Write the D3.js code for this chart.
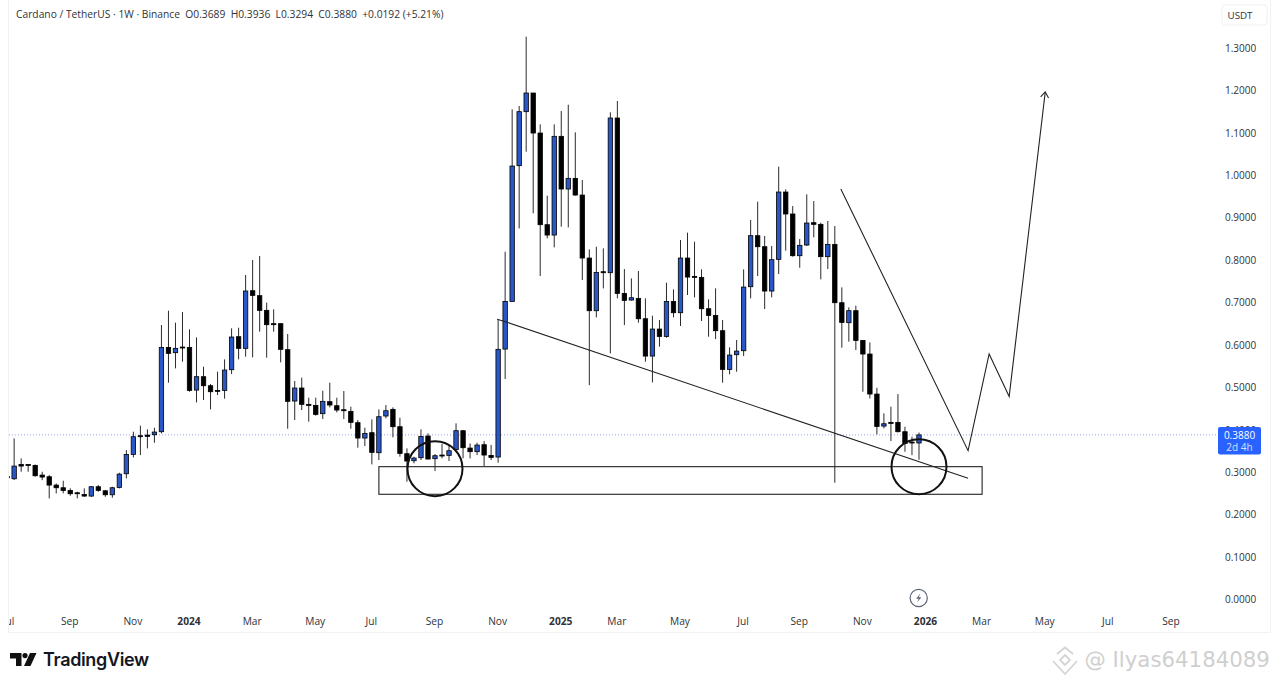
<!DOCTYPE html>
<html>
<head>
<meta charset="utf-8">
<style>
  html, body { margin: 0; padding: 0; background: #fff; }
  text { font-family: "Open Sans", "Noto Sans", sans-serif; }
  .axis path, .axis line { display: none; }
</style>
<script src="https://cdn.jsdelivr.net/npm/d3@7"></script>
</head>
<body>
<svg id="chart" width="1280" height="686"></svg>
<script>
// weekly candles, first bar is the week of this date
const firstWeek = '2023-07-03';

const opens = [
  .2900, .2846, .3184, .3184, .3161, .2933, .2894, .2697, .2634, .2571, .2516, .2477, .2438, .2658,
  .2563, .2469, .2642, .2964, .3420, .3860, .3876, .3884, .3955, .5943, .5818, .5951, .5943, .4937,
  .5252, .5039, .4929, .4929, .5417, .6195, .5920, .7279, .7162, .6816, .6502, .6502, .5889, .4678,
  .4985, .4600, .4576, .4380, .4663, .4568, .4474, .4435, .4168, .3806, .3932, .3460, .4325, .4482,
  .4073, .3437, .3271, .3342, .3853, .3319, .3405, .3397, .3531, .3979, .3570, .3484, .3649, .3397,
  .3358, .5903, .7027, 1.0226, 1.1499, 1.1939, 1.0996, .8835, .8591, 1.0918, .9676, .9927, .9534, .8049,
  .6807, .7727, .7703, 1.1350, .7216, .7059, .7098, .6618, .5738, .6375, .6202, .7027, .6760, .8049,
  .7617, .7593, .6854, .6697, .6336, .5424, .5770, .5864, .7373, .8576, .8316, .7271, .8018, .9605,
  .9087, .8104, .8356, .8882, .8843, .8081, .8371, .6996, .6525, .6808, .6108, .5786, .4843, .4088,
  .4175, .4175, .3955, .3710, .3689
];
const highs = [
  .2920, .3797, .3326, .3184, .3184, .3011, .2933, .2736, .2799, .2619, .2540, .2619, .2674, .2697,
  .2579, .2658, .2988, .3522, .3955, .4096, .4010, .4049, .6470, .6808, .6525, .6776, .6368, .6179,
  .5487, .5079, .5370, .5660, .6391, .6407, .7649, .8003, .8097, .6997, .6840, .6510, .6258, .5150,
  .5229, .4757, .4757, .4922, .5111, .4757, .4914, .4545, .4230, .4050, .4246, .4482, .4584, .4529,
  .4285, .3562, .3366, .4010, .3916, .3429, .3664, .3641, .4152, .3995, .3680, .3696, .3735, .3641,
  .6604, .8198, 1.1554, 1.1633, 1.3268, 1.1939, 1.1201, .9519, 1.1201, 1.1515, 1.1664, 1.1012, .9888, .8253,
  .8316, .8277, 1.1484, 1.1751, .7789, .7569, .7742, .7098, .6689, .6587, .7468, .7310, .8474, .8647,
  .8434, .7782, .7075, .7334, .6587, .5943, .6116, .7782, .8945, .9377, .8568, .8332, 1.0203, .9668,
  .9275, .8497, .9550, .9393, .8882, .8922, .8804, .7357, .6886, .6926, .6116, .6061, .4992, .4387,
  .4544, .4843, .4073, .3837, .3936
];
const lows = [
  .2860, .2815, .3011, .3011, .2894, .2815, .2383, .2501, .2501, .2446, .2383, .2422, .2422, .2540,
  .2422, .2398, .2619, .2854, .3349, .3405, .3562, .3695, .3915, .5110, .5448, .5605, .4898, .4646,
  .4701, .4481, .4819, .4733, .5314, .5660, .5723, .5707, .6313, .5700, .6313, .5590, .4025, .4230,
  .4466, .4191, .4333, .4254, .4529, .4411, .4254, .4025, .3578, .3617, .3185, .3287, .4270, .3822,
  .3366, .2776, .3209, .3287, .3303, .3028, .3327, .3264, .3507, .3327, .3327, .3405, .3146, .3287,
  .3224, .5196, .7027, .8748, 1.0556, .9102, .7624, .8512, .8300, .8788, .8772, .9519, .7530, .5054,
  .6650, .7333, .5801, .7098, .6469, .7043, .6524, .5604, .5117, .5958, .6171, .6650, .6446, .7177,
  .7122, .6564, .6194, .6139, .5110, .5306, .5369, .5738, .7098, .7625, .6847, .7122, .7672, .8222,
  .8081, .7821, .8332, .8536, .7546, .7790, .2752, .5935, .6077, .5880, .4898, .4741, .3892, .4033,
  .3735, .3939, .3483, .3404, .3294
];
const closes = [
  .2870, .3145, .3145, .3161, .2917, .2886, .2697, .2634, .2571, .2493, .2493, .2438, .2658, .2571,
  .2469, .2634, .2956, .3420, .3837, .3837, .3845, .3947, .5943, .5802, .5920, .5928, .4929, .5252,
  .5039, .4898, .4906, .5409, .6187, .5920, .7272, .7169, .6816, .6478, .6478, .5897, .4671, .4985,
  .4600, .4576, .4364, .4671, .4584, .4466, .4450, .4175, .3806, .3916, .3468, .4309, .4450, .4073,
  .3444, .3264, .3334, .3845, .3311, .3389, .3382, .3507, .3979, .3578, .3484, .3641, .3405, .3350,
  .5897, .7027, 1.0218, 1.1499, 1.1939, 1.0996, .8835, .8591, 1.0918, .9676, .9927, .9534, .8049, .6807,
  .7711, .7703, 1.1350, .7216, .7051, .7113, .6618, .5738, .6375, .6202, .7027, .6760, .8049, .7601,
  .7593, .6854, .6697, .6336, .5424, .5762, .5856, .7365, .8576, .8316, .7271, .8010, .9605, .9087,
  .8104, .8348, .8874, .8843, .8081, .8371, .6996, .6532, .6808, .6108, .5786, .4843, .4080, .4143,
  .4151, .3955, .3680, .3689, .3880
];

const priceTicks = [0, .1, .2, .3, .4, .5, .6, .7, .8, .9, 1, 1.1, 1.2, 1.3];
const timeTicks = ['2023-07-03', '2023-09-04', '2023-11-06', '2024-01-01', '2024-03-04', '2024-05-06', '2024-07-01', '2024-09-02', '2024-11-04', '2025-01-06', '2025-03-03', '2025-05-05', '2025-07-07', '2025-09-01', '2025-11-03', '2026-01-05', '2026-03-02', '2026-05-04', '2026-07-06', '2026-09-07'];
const timeLabels = ['Jul', 'Sep', 'Nov', '2024', 'Mar', 'May', 'Jul', 'Sep', 'Nov', '2025', 'Mar', 'May', 'Jul', 'Sep', 'Nov', '2026', 'Mar', 'May', 'Jul', 'Sep'];

const lastClose = .3880;

// hand drawn stuff on the chart
const trendDates = ['2024-11-03', '2024-11-13', '2026-02-16'];
const trendPrices = [.6604, .6534, .2857];
const arrowDates = ['2025-10-12', '2026-02-16', '2026-03-09', '2026-03-29', '2026-05-04'];
const arrowPrices = [.9677, .3508, .5787, .4785, 1.1964];
const boxDates = ['2024-07-08', '2026-03-02'];
const boxPrices = [.3131, .2480];
const circleDates = ['2024-09-02', '2025-12-29'];
const circlePrices = [.3083, .3131];

const parse = d3.utcParse('%Y-%m-%d');

const x = d3.scaleUtc()
  .domain([parse('2024-01-01'), parse('2026-01-05')])
  .range([189.5, 926]);
const y = d3.scaleLinear()
  .domain([0, 1.3])
  .range([599.5, 48]);

const svg = d3.select('#chart');

// frame
svg.append('rect').attr('x', 0).attr('y', 0).attr('width', 1280).attr('height', 686).attr('fill', '#fff');
svg.append('path').attr('d', 'M8.5 0V632.5H1270.5V0').attr('fill', 'none').attr('stroke', '#f2f2f2');

svg.append('defs').append('clipPath').attr('id', 'pane')
  .append('rect').attr('x', 9).attr('y', 0).attr('width', 1212).attr('height', 632);
d3.select('defs').append('marker')
  .attr('id', 'head').attr('viewBox', '-7 -5 8 10').attr('refX', 0).attr('refY', 0)
  .attr('markerWidth', 8).attr('markerHeight', 10).attr('markerUnits', 'userSpaceOnUse').attr('orient', 'auto')
  .append('path').attr('d', 'M-5.5 -4L0 0L-5.5 4').attr('fill', 'none').attr('stroke', '#222').attr('stroke-width', 1);

const pane = svg.append('g').attr('clip-path', 'url(#pane)');

// last price line
pane.append('line')
  .attr('x1', 9).attr('x2', 1221)
  .attr('y1', y(lastClose)).attr('y2', y(lastClose))
  .attr('stroke', '#8fa9e6').attr('stroke-width', 1).attr('stroke-dasharray', '1 2');

// candles
const candles = opens.map((o, i) => ({
  date: d3.utcDay.offset(parse(firstWeek), 7 * i),
  open: o, high: highs[i], low: lows[i], close: closes[i]
}));

const bar = pane.selectAll('g.candle').data(candles).join('g').attr('class', 'candle');
bar.append('line')
  .attr('x1', d => x(d.date)).attr('x2', d => x(d.date))
  .attr('y1', d => y(d.high)).attr('y2', d => y(d.low))
  .attr('stroke', '#2b2b2b').attr('stroke-width', 1);
bar.append('rect')
  .attr('x', d => x(d.date) - 2.2)
  .attr('width', 4.4)
  .attr('y', d => y(Math.max(d.open, d.close)))
  .attr('height', d => Math.abs(y(d.open) - y(d.close)))
  .attr('fill', d => d.close >= d.open ? '#2a57c8' : '#000')
  .attr('stroke', '#000').attr('stroke-width', .8);

// drawings
const lineGen = d3.line().x(d => x(parse(d[0]))).y(d => y(d[1]));

pane.append('path')
  .attr('d', lineGen(d3.zip(trendDates, trendPrices)))
  .attr('fill', 'none').attr('stroke', '#222').attr('stroke-width', 1.1);

pane.append('path')
  .attr('d', lineGen(d3.zip(arrowDates, arrowPrices)))
  .attr('fill', 'none').attr('stroke', '#222').attr('stroke-width', 1.1)
  .attr('marker-end', 'url(#head)');

pane.append('rect')
  .attr('x', x(parse(boxDates[0])))
  .attr('y', y(boxPrices[0]))
  .attr('width', x(parse(boxDates[1])) - x(parse(boxDates[0])))
  .attr('height', y(boxPrices[1]) - y(boxPrices[0]))
  .attr('fill', 'none').attr('stroke', '#222').attr('stroke-width', 1.1);

pane.selectAll('circle.zone').data(d3.zip(circleDates, circlePrices)).join('circle')
  .attr('class', 'zone')
  .attr('cx', d => x(parse(d[0])))
  .attr('cy', d => y(d[1]))
  .attr('r', 27.5)
  .attr('fill', 'none').attr('stroke', '#111').attr('stroke-width', 2);

// price axis
const yAxis = svg.append('g').attr('class', 'axis')
  .attr('transform', 'translate(1225,0)')
  .call(d3.axisRight(y).tickValues(priceTicks).tickFormat(d3.format('.4f')).tickSize(0).tickPadding(0));
yAxis.selectAll('text').attr('fill', '#2f3238').attr('font-size', 10)
  .style('font-family', '"Open Sans", sans-serif');

// time axis
const xAxisClip = svg.append('g').attr('clip-path', 'url(#pane)');
const xAxis = xAxisClip.append('g').attr('class', 'axis')
  .attr('transform', 'translate(-1,617.5)')
  .call(d3.axisBottom(x).tickValues(timeTicks.map(parse))
    .tickFormat((d, i) => timeLabels[i]).tickSize(0).tickPadding(0));
xAxis.selectAll('text')
  .attr('fill', '#2f3238').attr('font-size', 10.2)
  .attr('font-weight', (d, i) => /^\d/.test(timeLabels[i]) ? 700 : 400)
  .attr('dx', (d, i) => i === 0 ? 2 : 0)
  .style('font-family', '"Open Sans", sans-serif');

// header
svg.append('text').attr('x', 16).attr('y', 18).attr('font-size', 10.27).attr('fill', '#2f3238')
  .attr('xml:space', 'preserve')
  .text('Cardano / TetherUS · 1W · Binance  O0.3689  H0.3936  L0.3294  C0.3880  +0.0192 (+5.21%)');

// currency button
svg.append('rect').attr('x', 1222).attr('y', 5).attr('width', 45).attr('height', 20).attr('rx', 3)
  .attr('fill', '#fff').attr('stroke', '#f0f0f0');
svg.append('text').attr('x', 1240).attr('y', 18.5).attr('text-anchor', 'middle')
  .attr('font-size', 9.8).attr('fill', '#2f3238').text('USDT');

// last price tag
svg.append('rect').attr('x', 1218).attr('y', 427).attr('width', 43).attr('height', 27.5).attr('rx', 2)
  .attr('fill', '#2962ff');
svg.append('text').attr('x', 1239.5).attr('y', 439).attr('text-anchor', 'middle')
  .attr('font-size', 10).attr('fill', '#fff').text('0.3880');
svg.append('text').attr('x', 1239.5).attr('y', 451).attr('text-anchor', 'middle')
  .attr('font-size', 10).attr('fill', '#d5e0ff').text('2d 4h');

// lightning badge
const badge = svg.append('g').attr('transform', 'translate(918.7,598)');
badge.append('circle').attr('r', 8.6).attr('fill', '#fff').attr('stroke', '#5c6478').attr('stroke-width', 1.2);
badge.append('path').attr('d', 'M1.6 -4.6L-2.6 .8H0L-1.6 4.6L2.6 -.8H0Z').attr('fill', '#5c6478');

// TradingView logo
const logo = svg.append('g').attr('fill', '#111');
logo.append('path').attr('d', 'M10 653H21.5V666H16V658.4H10Z');
logo.append('circle').attr('cx', 25).attr('cy', 655.6).attr('r', 2.6);
logo.append('path').attr('d', 'M30 653H36.5L30.5 666H24Z');
svg.append('text').attr('x', 43).attr('y', 665.5).attr('font-size', 18).attr('font-weight', 600)
  .attr('fill', '#131722').style('font-family', 'Inter, sans-serif').attr('letter-spacing', -.35).text('TradingView');

// watermark
const mark = svg.append('g').attr('fill', 'none').attr('stroke', '#d4d4d4').attr('stroke-width', 1.8);
mark.append('path').attr('d', 'M1065 655L1070 660L1065 665L1060 660Z');
mark.append('path').attr('d', 'M1057 654L1065 647.5L1073 654');
mark.append('path').attr('d', 'M1053 661L1065 674L1077 661');
svg.append('text').attr('x', 1084.5).attr('y', 667).attr('font-size', 21.3).attr('fill', '#cfcfcf')
  .style('font-family', '"DejaVu Sans", sans-serif').text('@ Ilyas64184089');
</script>
</body>
</html>
